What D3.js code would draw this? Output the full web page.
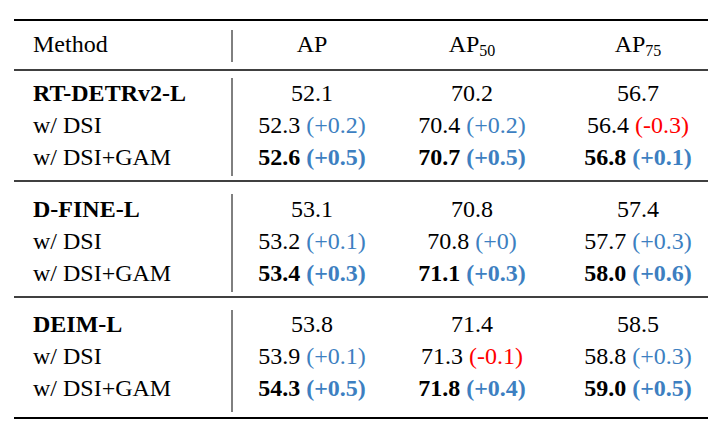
<!DOCTYPE html>
<html><head><meta charset="utf-8">
<script src="https://cdn.jsdelivr.net/npm/d3@7"></script>
<style>body{margin:0;background:#fff} text{font-family:"Liberation Serif","Times New Roman",Times,"DejaVu Serif",serif}</style>
</head><body>
<svg id="t" width="722" height="421"></svg>
<script>
const headers = ["AP", "AP50", "AP75"];
const groups = ["RT-DETRv2-L", "D-FINE-L", "DEIM-L"];
const variants = ["", "w/ DSI", "w/ DSI+GAM"];
// [value, delta] per metric; delta null for baseline rows
const values = [
  [[52.1, null], [70.2, null], [56.7, null]],
  [[52.3, "+0.2"], [70.4, "+0.2"], [56.4, "-0.3"]],
  [[52.6, "+0.5"], [70.7, "+0.5"], [56.8, "+0.1"]],
  [[53.1, null], [70.8, null], [57.4, null]],
  [[53.2, "+0.1"], [70.8, "+0"], [57.7, "+0.3"]],
  [[53.4, "+0.3"], [71.1, "+0.3"], [58.0, "+0.6"]],
  [[53.8, null], [71.4, null], [58.5, null]],
  [[53.9, "+0.1"], [71.3, "-0.1"], [58.8, "+0.3"]],
  [[54.3, "+0.5"], [71.8, "+0.4"], [59.0, "+0.5"]]
];

const svg = d3.select("#t");
const fs = 24;
const x = d3.scaleOrdinal().domain(headers).range([312, 472, 638]);
const rowY = [95, 127, 159, 211, 243, 275, 326, 358, 390];
const blue = "#3d7fc1", red = "#ff0000";

const line = (x1, y1, x2, y2, w) => svg.append("line")
  .attr("x1", x1).attr("y1", y1).attr("x2", x2).attr("y2", y2)
  .attr("stroke", "#000").attr("stroke-width", w);

line(14, 20, 708, 20, 2);
line(14, 70, 708, 70, 1.3);
line(14, 181, 708, 181, 1.3);
line(14, 297, 708, 297, 1.3);
line(14, 418, 708, 418, 2);
[[30, 62], [78, 176], [194, 292], [310, 412]].forEach(([a, b]) => line(232, a, 232, b, 1));

const txt = (t, px, py, anchor) => svg.append("text").attr("x", px).attr("y", py)
  .attr("font-size", fs).attr("text-anchor", anchor || "start")
  .attr("dominant-baseline", "middle").attr("fill", "#000").text(t);

txt("Method", 33, 46);
headers.forEach(h => {
  const t = txt(h.slice(0, 2), x(h), 46, "middle");
  if (h.length > 2) t.append("tspan").attr("font-size", 16).attr("dy", 6).text(h.slice(2));
});

values.forEach((row, i) => {
  const g = Math.floor(i / 3), v = i % 3;
  const y = rowY[i];
  if (v === 0) txt(groups[g], 33, y).attr("font-weight", "bold");
  else txt(variants[v], 33, y);
  row.forEach(([val, d], j) => {
    const t = txt("", x(headers[j]), y, "middle");
    const bold = v === 2 ? "bold" : "normal";
    t.append("tspan").attr("font-weight", bold).text(val.toFixed(1));
    if (d !== null) t.append("tspan").attr("font-weight", bold)
      .attr("fill", d.startsWith("-") ? red : blue).text(" (" + d + ")");
  });
});
</script>
</body></html>
